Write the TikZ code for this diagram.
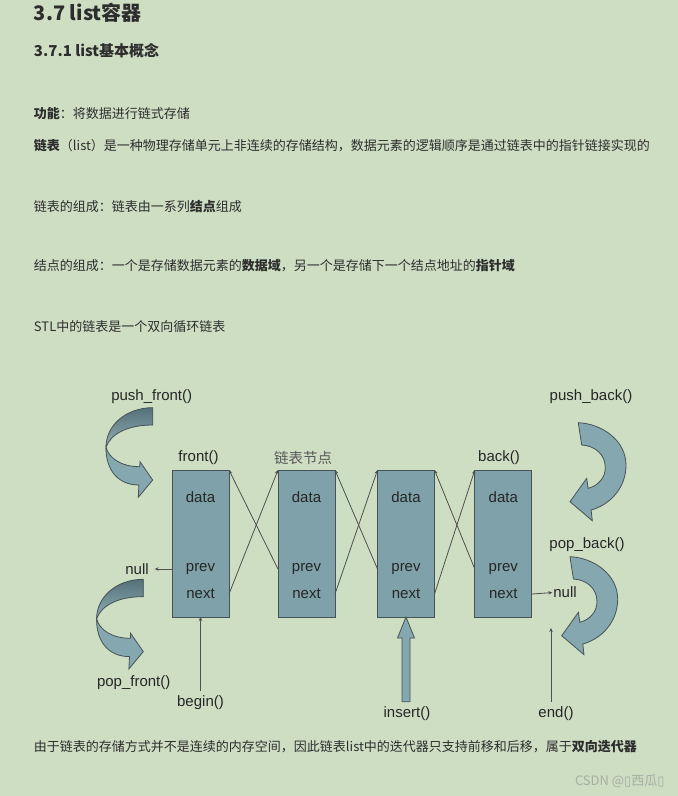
\documentclass[tikz,border=0pt]{standalone}
\usepackage{fontspec}
\setmainfont{Noto Sans CJK SC}
\newfontfamily\labfont{Liberation Sans}
\newfontfamily\dvsfont{DejaVu Sans}
\usetikzlibrary{arrows.meta,calc}
\definecolor{bg}{RGB}{206,222,195}
\definecolor{txt}{RGB}{45,45,45}
\definecolor{boxfill}{RGB}{126,161,170}
\definecolor{boxline}{RGB}{70,82,86}
\definecolor{arrfill}{RGB}{133,167,176}
\definecolor{arrdark}{RGB}{84,112,120}
\definecolor{lnk}{RGB}{80,80,80}
\definecolor{wm}{RGB}{165,175,163}
\newcommand\mycurveleft[2]{%
  \begin{scope}[shift={(#1,#2)}]
    \path[band,top color=arrdark,bottom color=arrfill!90!white]
      (0,0) .. controls (-26,0) and (-46.7,17) .. (-46.7,39.6)
      .. controls (-42,26) and (-25,17.3) .. (0,17.3) -- cycle;
    \path[band]
      (-46.7,39.6) .. controls (-47,62) and (-35,77.3) .. (-13.8,77.3)
      -- (-14.4,89.6) -- (0,72.3) -- (-12.7,54) -- (-12.9,59)
      .. controls (-32,59) and (-44,50) .. (-46.7,39.6) -- cycle;
  \end{scope}}
\newcommand\mycurveright[2]{%
  \begin{scope}[shift={(#1,#2)}]
    \path[band]
      (0,0) .. controls (24,1) and (47.7,18) .. (47.7,42.3)
      .. controls (47.7,65) and (32,82) .. (12.8,87.3)
      -- (14,98) -- (-8.3,79) -- (8.4,55.6) -- (9.8,65.6)
      .. controls (20,63) and (27,55) .. (27,45)
      .. controls (27,32) and (17,23) .. (3.4,22.3) -- cycle;
  \end{scope}}
\begin{document}
\begin{tikzpicture}[x=1pt,y=-1pt,
  every node/.style={inner sep=0pt,outer sep=0pt},
  para/.style={anchor=base west,text=txt,font=\fontsize{13}{15}\selectfont},
  lbl/.style={text=black!85,font=\labfont\fontsize{15}{17}\selectfont},
  cell/.style={draw=boxline,fill=boxfill,line width=0.9pt,minimum width=57pt,minimum height=147pt},
  link/.style={draw=lnk,line width=0.8pt,-{Stealth[length=4pt,width=3.5pt]}},
  band/.style={draw=boxline,line width=0.8pt,fill=arrfill},
  ]
\fill[bg] (0,0) rectangle (678,796);
\useasboundingbox (0,0) rectangle (678,796);

% text
\node[para] (t1) at (34,20) {\fontsize{20}{24}\selectfont\bfseries 3.7 list容器};
\node[para] (t2) at (34,56) {\fontsize{15}{18}\selectfont\bfseries 3.7.1 list基本概念};
\node[para] (p1) at (34,118) {\textbf{功能}：将数据进行链式存储};
\node[para] (p2) at (34,150) {\textbf{链表}（list）是一种物理存储单元上非连续的存储结构，数据元素的逻辑顺序是通过链表中的指针链接实现的};
\node[para] (p3) at (34,211) {链表的组成：链表由一系列\textbf{结点}组成};
\node[para] (p4) at (34,270) {结点的组成：一个是存储数据元素的\textbf{数据域}，另一个是存储下一个结点地址的\textbf{指针域}};
\node[para] (p5) at (34,331) {STL中的链表是一个双向循环链表};
\node[para] (p6) at (34,751) {由于链表的存储方式并不是连续的内存空间，因此链表list中的迭代器只支持前移和后移，属于\textbf{双向迭代器}};
\node[para,text=wm] (wm) at (575,785) {CSDN @{\dvsfont ▯}西瓜{\dvsfont ▯}};

% boxes
\node[cell] (n1) at (200.5,543.5) {};
\node[cell] (n2) at (306.5,543.5) {};
\node[cell] (n3) at (406,543.5) {};
\node[cell] (n4) at (503.3,543.5) {};
\foreach \i/\x in {1/200.5,2/306.5,3/406,4/503.3}{
  \node[lbl] (data\i) at (\x,497) {data};
  \node[lbl] (prev\i) at (\x,569) {prev};
  \node[lbl] (next\i) at (\x,594) {next};
}
\node[lbl] (front) at (198.5,458) {front()};
\node[lbl,text=black!65,font=\fontsize{14.5}{17}\selectfont] (jd) at (303,458) {链表节点};
\node[lbl] (back) at (499,458) {back()};

% links
\foreach \a/\b in {1/2,2/3,3/4}{
  \draw[link] (n\b.west |- prev\b) -- (n\a.north east);
  \draw[link] (n\a.east |- next\a) -- (n\b.north west);
}
\node[lbl] (nullL) at (137,569) {null};
\node[lbl] (nullR) at (565,592.5) {null};
\draw[link,shorten >=6pt] (n1.west |- prev1) -- (nullL.east);
\draw[link,shorten >=1pt] (n4.east |- next4) -- (nullR.west);

% bottom labels
\node[lbl] (beginL) at (200.5,702.7) {begin()};
\node[lbl] (insertL) at (407,714) {insert()};
\node[lbl] (endL) at (556,714) {end()};
\draw[link,shorten <=5pt] (beginL.north) -- (n1.south);
\coordinate (endbot) at (551,702);
\coordinate (endtip) at (551,628);
\draw[link] (endbot) -- (endtip);
\begin{scope}[shift={(n3.south)}]
  \path[band] (-4,84.7) -- (-4,21) -- (-8.5,21) -- (0,0) -- (8.5,21) -- (4,21) -- (4,84.7) -- cycle;
\end{scope}

% curved arrows
\node[lbl] (pushF) at (151.7,397) {push\_front()};
\node[lbl] (popF) at (133.7,683) {pop\_front()};
\node[lbl] (pushB) at (591,397) {push\_back()};
\node[lbl] (popB) at (587,545) {pop\_back()};
\mycurveleft{152.7}{407.7}
\mycurveleft{143.3}{579.3}
\mycurveright{578.3}{422.7}
\mycurveright{570}{556.7}
\end{tikzpicture}
\end{document}
